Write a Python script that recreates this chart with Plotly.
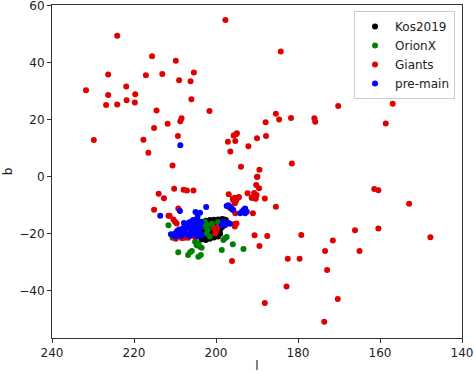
import plotly.graph_objects as go

# ---- data (galactic l, b) ----
kos_l = [203.5,203.5,203.5,203.5,203.5,
         203.0,203.0,203.0,203.0,
         202.5,202.5,202.5,202.5,202.5,
         202.0,202.0,202.0,202.0,
         201.5,201.5,201.5,201.5,201.5,
         201.0,201.0,201.0,201.0,
         200.5,200.5,200.5,200.5,200.5,
         200.0,200.0,200.0,200.0,
         199.5,199.5,199.5,199.5,199.5,
         199.0,199.0,199.0,199.0,
         198.5,198.5,198.5,
         198.0,198.0,
         197.6]
kos_b = [-15.8,-17.5,-19.2,-21.0,-22.0,
         -16.5,-18.3,-20.1,-21.6,
         -15.4,-17.0,-18.8,-20.6,-22.2,
         -16.0,-17.8,-19.5,-21.3,
         -15.2,-16.9,-18.4,-20.2,-21.8,
         -15.6,-17.3,-19.0,-20.8,
         -15.1,-16.4,-18.0,-19.7,-21.3,
         -15.4,-17.0,-18.6,-20.4,
         -15.0,-16.5,-18.1,-19.6,-21.0,
         -15.3,-16.9,-18.5,-20.0,
         -14.8,-16.2,-17.6,
         -15.0,-16.0,
         -15.2]

orion_l = [211.6,210.6,209.2,206.8,206.3,205.9,204.3,203.7,205.1,204.7,203.9,203.5,
           198.6,198.2,197.8,197.4,195.9,193.3,208.4,202.7,201.9,202.3,204.3,201.0,
           200.5,202.0,199.5,201.5,203.0]
orion_b = [-17.0,-21.4,-26.5,-27.5,-26.5,-26.1,-28.1,-27.5,-22.8,-24.0,-24.6,-24.9,
           -25.7,-22.2,-21.6,-21.1,-23.7,-25.4,-21.4,-15.8,-17.0,-19.9,-23.4,-16.5,
           -18.0,-18.5,-16.0,-21.0,-17.5]

giants_l = [197.7,224.1,215.6,209.8,226.3,217.1,213.1,205.4,209.0,206.2,231.7,221.9,
            226.3,219.7,221.8,219.8,226.8,224.1,206.0,214.5,201.6,208.4,208.7,211.8,
            215.1,229.8,217.7,209.3,216.5,210.6,197.1,195.7,195.1,195.3,196.5,
            184.2,170.2,156.9,158.6,185.4,184.6,181.7,176.0,175.8,187.9,187.8,190.0,
            192.1,194.9,193.9,189.4,190.0,181.5,
            161.4,160.4,189.5,192.3,190.7,191.2,190.3,188.1,194.4,185.4,152.9,191.0,
            166.1,160.4,190.6,187.5,179.2,147.7,171.5,189.4,173.4,165.0,182.5,179.6,
            172.9,182.8,170.3,188.1,173.6,
            210.2,207.9,207.1,205.5,214.0,212.7,196.9,195.9,215.1,209.2,211.3,210.4,
            210.0,210.4,209.8,196.1,208.3,207.7,206.8,205.6,205.2,200.3,199.7,195.6,
            195.3,196.0,196.6,199.8,200.2,204.3,211.6,209.6,
            195.4,194.6,191.3,195.8,195.4,195.0,195.4,190.2,189.9,195.1,190.1,205.1]
giants_b = [55.0,49.5,42.3,40.7,35.9,35.6,36.1,36.6,33.9,33.5,30.4,31.7,
            28.7,29.0,26.9,26.1,25.2,25.4,27.2,23.3,23.1,20.5,19.5,18.6,
            17.1,12.9,13.0,14.3,8.4,4.0,12.3,14.5,14.9,12.6,8.9,
            44.0,24.8,25.6,18.7,22.1,20.1,20.6,20.5,19.3,19.1,14.3,13.5,
            10.7,15.3,3.5,2.5,-0.1,4.7,
            -4.3,-4.7,-4.0,-5.8,-5.7,-7.4,-7.7,-7.6,-7.1,-10.5,-9.5,-12.8,
            -18.8,-18.2,-20.5,-20.8,-20.4,-21.2,-22.4,-24.3,-26.1,-26.1,-28.8,-28.8,
            -32.7,-38.5,-42.9,-44.3,-50.9,
            -4.2,-4.6,-4.8,-4.8,-6.0,-7.5,-6.1,-7.7,-11.6,-11.1,-13.7,-15.0,
            -15.8,-20.8,-21.8,-29.6,-21.5,-21.4,-21.4,-20.6,-18.2,-18.2,-17.8,-16.7,
            -12.8,-11.6,-11.0,-18.7,-19.9,-19.9,-13.7,-16.4,
            -7.4,-7.4,-7.4,-8.2,-9.3,-16.4,-17.5,-2.9,0.0,-8.4,-6.4,-21.1]

pms_l = [208.7,213.6,208.8,202.4,205.0,203.9,204.5,197.4,197.1,196.6,197.8,197.0,
         196.6,196.2,195.8,193.3,192.9,192.5,192.9,194.1,193.7,198.2,197.8,198.6,
         210.0,209.5,209.0,209.5,208.7,208.2,208.0,207.5,207.0,206.5,206.0,205.5,
         205.0,204.5,204.0,206.8,206.2,205.8,205.2,204.8,207.6,207.0,208.4,206.4,
         205.0,204.2,203.8,206.0,207.8,205.6,204.6,203.6,209.8,210.3,211.0,204.5,203.5]
pms_b = [11.1,-13.7,-12.0,-10.6,-12.4,-12.6,-14.0,-10.3,-16.1,-16.5,-17.0,-10.0,
         -10.5,-11.1,-11.7,-11.7,-11.1,-12.3,-12.8,-12.8,-12.3,-15.8,-16.4,-17.0,
         -19.9,-19.0,-18.5,-20.5,-20.0,-19.2,-18.0,-17.2,-16.5,-16.0,-15.8,-16.3,
         -15.5,-16.5,-17.0,-17.8,-18.5,-19.5,-17.8,-18.8,-19.4,-20.2,-20.8,-20.8,
         -20.3,-19.5,-18.0,-17.0,-16.2,-15.2,-15.0,-16.0,-21.0,-20.5,-20.2,-21.0,-20.5]

x_ticks = [240, 220, 200, 180, 160, 140]
y_ticks = [-40, -20, 0, 20, 40, 60]

series = [
    ("Kos2019", kos_l, kos_b, "#000000"),
    ("OrionX", orion_l, orion_b, "#008000"),
    ("Giants", giants_l, giants_b, "#e00000"),
    ("pre-main", pms_l, pms_b, "#0000ff"),
]

fig = go.Figure()
for name, lx, by, col in series:
    fig.add_trace(go.Scatter(
        x=lx, y=by, mode="markers", name=name,
        marker=dict(color=col, size=6, line=dict(width=0)),
    ))

font = dict(family="DejaVu Sans", size=12, color="#222222")
fig.update_layout(
    width=474, height=373,
    margin=dict(l=52, r=12, t=5, b=35),
    paper_bgcolor="white", plot_bgcolor="white",
    font=font,
    showlegend=True,
    legend=dict(x=0.983, y=0.982, xanchor="right", yanchor="top",
                bgcolor="rgba(255,255,255,0.8)", bordercolor="#cccccc", borderwidth=1,
                font=dict(family="DejaVu Sans", size=12, color="#222222"),
                itemwidth=30, tracegroupgap=0),
)
fig.update_xaxes(
    range=[240, 140], tickvals=x_ticks, ticktext=[str(v) for v in x_ticks],
    showgrid=False, zeroline=False, showline=True, mirror=True,
    linecolor="#333333", linewidth=1, ticks="outside", ticklen=4, tickcolor="#333333",
    ticklabeloverflow="allow",
    title=dict(text="l", standoff=2, font=font), automargin=False,
)
fig.update_yaxes(
    range=[-56.6, 60.3], tickvals=y_ticks,
    showgrid=False, zeroline=False, showline=True, mirror=True,
    linecolor="#333333", linewidth=1, ticks="outside", ticklen=4, tickcolor="#333333",
    ticklabeloverflow="allow",
    title=dict(text="b", standoff=4, font=font), automargin=False,
)
fig.write_html("out.html", config={"displayModeBar": False},
               post_script="document.body.style.margin='0';document.body.style.overflow='hidden';")
